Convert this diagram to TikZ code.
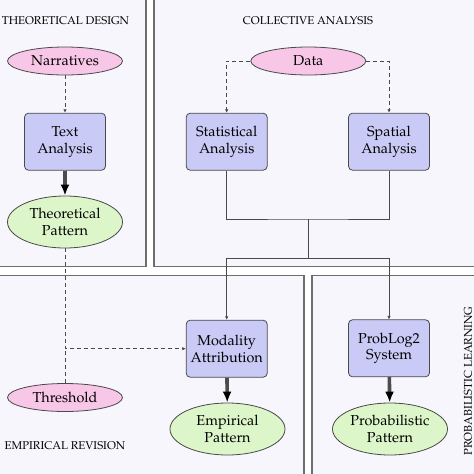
\documentclass[tikz,border=0pt]{standalone}
\usepackage[T1]{fontenc}
\usepackage{mathpazo}
\usetikzlibrary{shapes.geometric,arrows.meta}
\definecolor{panelfill}{HTML}{F6F6FC}
\definecolor{panelline}{HTML}{6E6E6E}
\definecolor{pinkfill}{HTML}{F8C6E6}
\definecolor{boxfill}{HTML}{CACAF6}
\definecolor{greenfill}{HTML}{DDF6C9}
\definecolor{nodeline}{HTML}{4A4A4A}
\tikzset{
  panel/.style={fill=panelfill,draw=panelline,line width=1.1pt},
  nodetext/.style={font=\fontsize{14.4}{16.7}\selectfont,align=center,inner sep=0pt},
  source/.style={nodetext,ellipse,draw=nodeline,line width=0.8pt,fill=pinkfill,minimum width=115pt,minimum height=28pt},
  process/.style={nodetext,rectangle,rounded corners=4pt,draw=nodeline,line width=0.8pt,fill=boxfill,minimum width=81pt,minimum height=57pt},
  result/.style={nodetext,ellipse,draw=nodeline,line width=0.8pt,fill=greenfill,minimum width=115pt,minimum height=52pt},
  paneltitle/.style={font=\fontsize{11.3}{13}\selectfont,inner sep=0pt},
  dashlink/.style={draw=nodeline,line width=0.8pt,dash pattern=on 4pt off 3pt},
  solidlink/.style={draw=nodeline,line width=0.8pt},
  smalltip/.style={-{Latex[length=3.5pt,width=3.5pt]}},
  heavy/.style={draw=black!70,line width=3.6pt,-{Latex[length=11pt,width=9pt,black]}}
}
\begin{document}
\begin{tikzpicture}[x=1pt,y=-1pt]
\useasboundingbox (0,0) rectangle (474,474);
\begin{scope}
\clip (0,0) rectangle (474,474);
\fill[white] (0,0) rectangle (474,474);
\draw[panel] (-10,-10) rectangle (146,266.7);
\draw[panel] (154,-10) rectangle (484,266.7);
\draw[panel] (-10,275.5) rectangle (304,484);
\draw[panel] (312,275.5) rectangle (484,484);
\end{scope}

\node[paneltitle] (t1) at (65.5,20.7) {THEORETICAL DESIGN};
\node[paneltitle] (t2) at (308,20.7) {COLLECTIVE ANALYSIS};
\node[paneltitle] (t3) at (65,445.7) {EMPIRICAL REVISION};
\node[paneltitle,rotate=90] (t4) at (468,381) {PROBABILISTIC LEARNING};

\node[source] (narr) at (65,61) {Narratives};
\node[process] (text) at (65,141.7) {Text\\Analysis};
\node[result] (theo) at (65,222) {Theoretical\\Pattern};

\node[source] (data) at (308.3,61) {Data};
\node[process] (stat) at (226.7,141.7) {Statistical\\Analysis};
\node[process] (spat) at (389,141.7) {Spatial\\Analysis};

\node[source] (thr) at (65,397.5) {Threshold};
\node[process] (moda) at (226.7,348.7) {Modality\\Attribution};
\node[result] (emp) at (227.5,429) {Empirical\\Pattern};

\node[process] (prob) at (389,348.3) {ProbLog2\\System};
\node[result] (ppat) at (390,429) {Probabilistic\\Pattern};

\coordinate (join) at (308,219);
\coordinate (split) at (308,258.3);

\draw[dashlink,smalltip] (narr) -- (text);
\draw[heavy] (text) -- (theo);
\draw[dashlink,smalltip] (data.west) -| (stat.north);
\draw[dashlink,smalltip] (data.east) -| (spat.north);
\draw[solidlink] (stat.south) |- (join) -| (spat.south);
\draw[solidlink] (join) -- (split);
\draw[solidlink,smalltip] (split) -| (moda.north);
\draw[solidlink,smalltip] (split) -| (prob.north);
\draw[dashlink,smalltip] (theo.south) |- (moda.west);
\draw[dashlink] (thr.north) -- (thr.north |- moda.west);
\draw[heavy] (moda) -- (emp);
\draw[heavy] (prob) -- (ppat);
\end{tikzpicture}
\end{document}
